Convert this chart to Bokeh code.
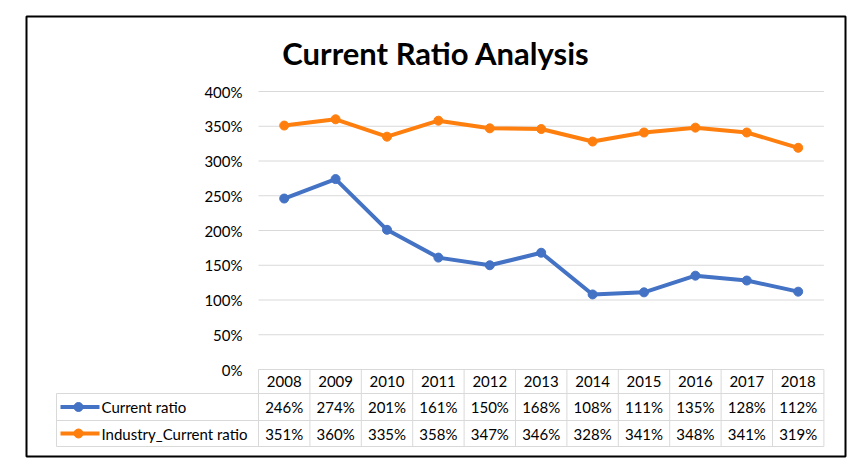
from bokeh.plotting import figure
from bokeh.models import Range1d, ColumnDataSource
from bokeh.core.properties import value
from bokeh.embed import file_html
from bokeh.resources import INLINE

# data
years = ["2008", "2009", "2010", "2011", "2012", "2013", "2014", "2015", "2016", "2017", "2018"]
current_ratio = [246, 274, 201, 161, 150, 168, 108, 111, 135, 128, 112]
industry_ratio = [351, 360, 335, 358, 347, 346, 328, 341, 348, 341, 319]
y_ticks = [0, 50, 100, 150, 200, 250, 300, 350, 400]
series_names = ["Current ratio", "Industry_Current ratio"]

BLUE = "#4472C4"
ORANGE = "#FF7F0E"
GRID = "#D9D9D9"
FONT = "Lato"
FS = "15px"

# one column of the data table = 51.4 px, y: 0.695 px per percent
cw = 51.4
py = 0.695
x_start = (26 - 258) / cw - 0.5
x_end = (845 - 258) / cw - 0.5
y_start = (369 - 456) / py
y_end = (369 - 16) / py

p = figure(width=855, height=458, output_backend="svg", toolbar_location=None,
           x_range=Range1d(x_start, x_end), y_range=Range1d(y_start, y_end),
           x_axis_type=None, y_axis_type=None,
           min_border_left=26, min_border_right=10, min_border_top=16, min_border_bottom=2)
p.grid.visible = False
p.outline_line_color = "black"
p.outline_line_width = 2
p.background_fill_color = "white"
p.border_fill_color = "white"

xs = list(range(len(years)))
n = len(years)

# gridlines
grid_y = [t for t in y_ticks if t > 0]
p.segment(x0=[-0.5] * len(grid_y), x1=[n - 0.5] * len(grid_y), y0=grid_y, y1=grid_y,
          line_color=GRID, line_width=1)

# y tick labels
p.text(x=[-0.5] * len(y_ticks), y=y_ticks, text=["%d%%" % t for t in y_ticks],
       x_offset=-16, text_align="right", text_baseline="middle",
       text_font=value(FONT), text_font_size=FS, text_color="#000000")

# title
p.text(x=[(x_start + x_end) / 2], y=[(369 - 52) / py], text=["Current Ratio Analysis"],
       text_align="center", text_baseline="middle", text_font=value(FONT),
       text_font_size="31px", text_font_style="bold", text_color="#000000")

# series
src = ColumnDataSource(dict(x=xs, cur=current_ratio, ind=industry_ratio))
p.line("x", "ind", source=src, line_color=ORANGE, line_width=4, line_join="round")
p.scatter("x", "ind", source=src, size=9, fill_color=ORANGE, line_color=ORANGE)
p.line("x", "cur", source=src, line_color=BLUE, line_width=4, line_join="round")
p.scatter("x", "cur", source=src, size=9, fill_color=BLUE, line_color=BLUE)

# data table
r0 = 0
r1 = -(393 - 369) / py
r2 = -(420 - 369) / py
r3 = -(446 - 369) / py
leg_x = (56 - 258) / cw - 0.5
hx0 = [-0.5, leg_x, leg_x, leg_x]
hy = [r0, r1, r2, r3]
p.segment(x0=hx0, x1=[n - 0.5] * 4, y0=hy, y1=hy, line_color=GRID, line_width=1)
vx = [i - 0.5 for i in range(n + 1)]
p.segment(x0=vx, x1=vx, y0=[r0] * len(vx), y1=[r3] * len(vx), line_color=GRID, line_width=1)
p.segment(x0=[leg_x], x1=[leg_x], y0=[r1], y1=[r3], line_color=GRID, line_width=1)

rc = [(r0 + r1) / 2, (r1 + r2) / 2, (r2 + r3) / 2]
p.text(x=xs, y=[rc[0]] * n, text=years, text_align="center", text_baseline="middle",
       text_font=value(FONT), text_font_size=FS, text_color="#000000")
p.text(x=xs, y=[rc[1]] * n, text=["%d%%" % v for v in current_ratio], text_align="center",
       text_baseline="middle", text_font=value(FONT), text_font_size=FS, text_color="#000000")
p.text(x=xs, y=[rc[2]] * n, text=["%d%%" % v for v in industry_ratio], text_align="center",
       text_baseline="middle", text_font=value(FONT), text_font_size=FS, text_color="#000000")

# legend keys inside the table
for row, color, name in [(rc[1], BLUE, series_names[0]), (rc[2], ORANGE, series_names[1])]:
    p.line([leg_x + 4 / cw, leg_x + 43 / cw], [row, row], line_color=color, line_width=4)
    p.scatter([leg_x + 22 / cw], [row], size=9, fill_color=color, line_color=color)
    p.text(x=[leg_x + 45 / cw], y=[row], text=[name], text_align="left", text_baseline="middle",
           text_font=value(FONT), text_font_size=FS, text_color="#000000")

open("out.html", "w").write(file_html(p, INLINE))
